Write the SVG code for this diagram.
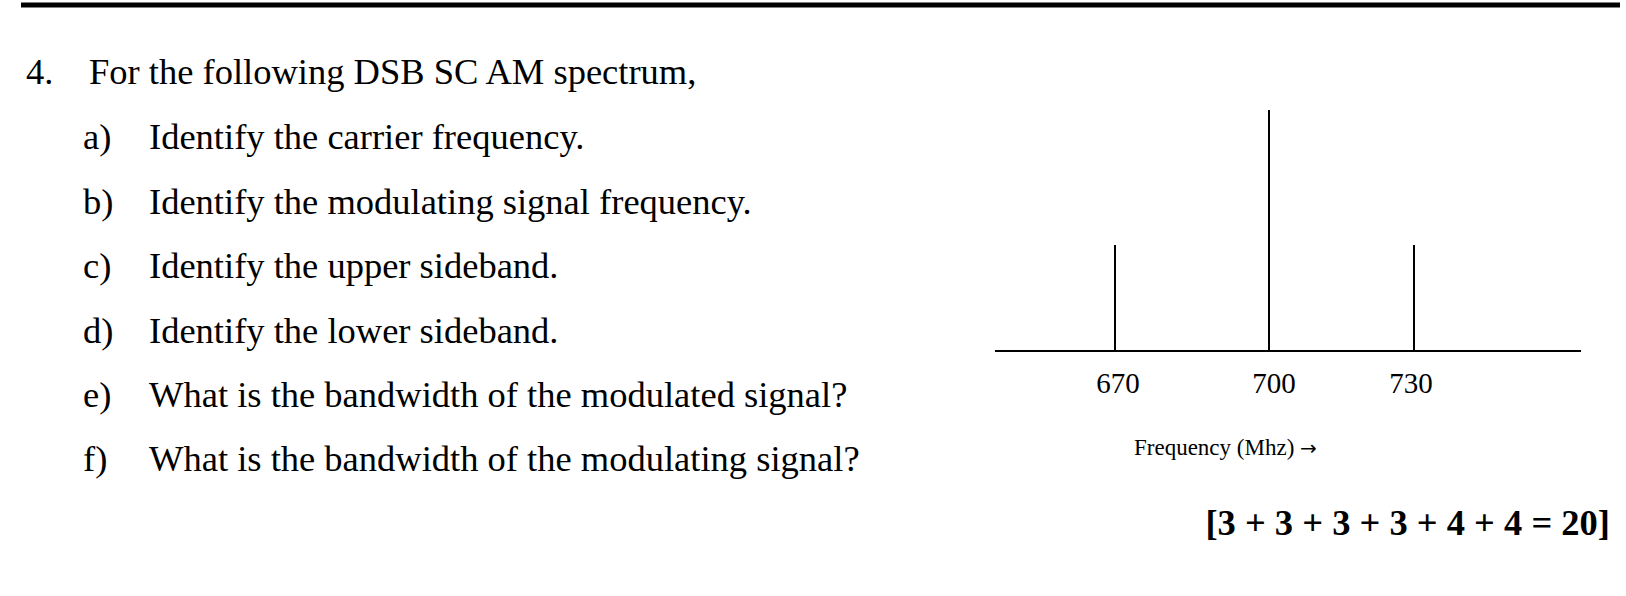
<svg xmlns="http://www.w3.org/2000/svg" width="1626" height="596" viewBox="0 0 1626 596">
<style>
text{font-family:"Liberation Serif",serif;fill:#000}
.q{font-size:36.5px}
.l{font-size:29px}
.ln{stroke:#000;stroke-width:2}
</style>
<rect width="1626" height="596" fill="#fff"/>
<line x1="21" y1="5" x2="1620" y2="5" stroke="#000" stroke-width="5"/>
<g id="question">
<text class="q" x="26" y="84">4.</text>
<text class="q" x="89" y="84">For the following DSB SC AM spectrum,</text>
<text class="q" x="83" y="149">a)</text><text class="q" x="149" y="149">Identify the carrier frequency.</text>
<text class="q" x="83" y="214">b)</text><text class="q" x="149" y="214">Identify the modulating signal frequency.</text>
<text class="q" x="83" y="278">c)</text><text class="q" x="149" y="278">Identify the upper sideband.</text>
<text class="q" x="83" y="343">d)</text><text class="q" x="149" y="343">Identify the lower sideband.</text>
<text class="q" x="83" y="407">e)</text><text class="q" x="149" y="407">What is the bandwidth of the modulated signal?</text>
<text class="q" x="83" y="471">f)</text><text class="q" x="149" y="471">What is the bandwidth of the modulating signal?</text>
</g>
<g id="spectrum">
<line class="ln" x1="995" y1="351" x2="1581" y2="351"/>
<line class="ln" x1="1115" y1="245" x2="1115" y2="351"/>
<line class="ln" x1="1269" y1="110" x2="1269" y2="351"/>
<line class="ln" x1="1414" y1="245" x2="1414" y2="351"/>
<text class="l" x="1118" y="393" text-anchor="middle">670</text>
<text class="l" x="1274" y="393" text-anchor="middle">700</text>
<text class="l" x="1411" y="393" text-anchor="middle">730</text>
<text x="1134" y="455" font-size="23">Frequency (Mhz) <tspan font-family="'DejaVu Sans',sans-serif" font-size="20">→</tspan></text>
</g>
<text x="1610" y="535" font-size="36.5" font-weight="bold" text-anchor="end">[3 + 3 + 3 + 3 + 4 + 4 = 20]</text>
</svg>
